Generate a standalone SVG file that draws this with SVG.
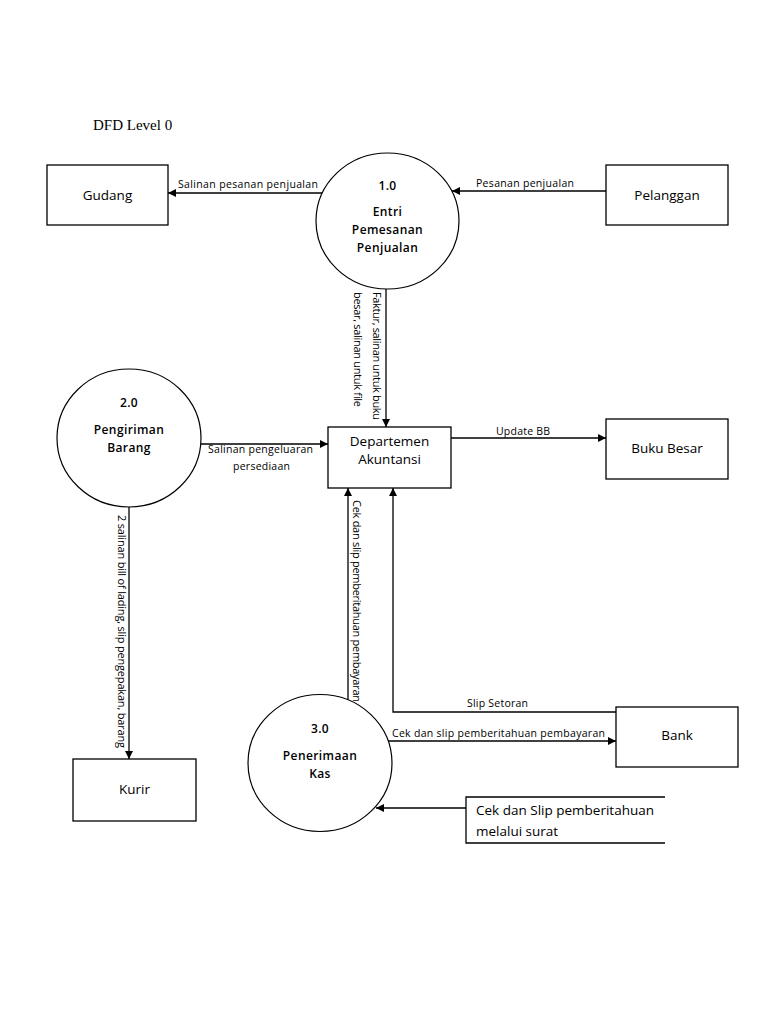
<svg xmlns="http://www.w3.org/2000/svg" width="768" height="1024" viewBox="0 0 768 1024">
<defs>
<marker id="arr" viewBox="0 0 10 10" refX="10" refY="5" markerWidth="9" markerHeight="8" markerUnits="userSpaceOnUse" orient="auto">
<path d="M0,0 L10,5 L0,10 z" fill="#000"/>
</marker>
<style>
.box{fill:#fff;stroke:#000;stroke-width:1.3}
.proc{fill:#fff;stroke:#000;stroke-width:1.2}
.ln{fill:none;stroke:#000;stroke-width:1.3}
.arr{fill:none;stroke:#000;stroke-width:1.3;marker-end:url(#arr)}
.nt{font-family:"Open Sans","Noto Sans",sans-serif;font-size:13.5px;fill:#000;text-anchor:middle}
.st{font-family:"Open Sans","Noto Sans",sans-serif;font-size:13.5px;fill:#000}
.pt{font-family:"Open Sans","Noto Sans",sans-serif;font-size:12px;font-weight:600;fill:#000;text-anchor:middle;letter-spacing:0.4px}
.lb{font-family:"Open Sans","Noto Sans",sans-serif;font-size:10.5px;fill:#000}
.vl{font-family:"Open Sans","Noto Sans",sans-serif;font-size:11px;fill:#000}
</style>
</defs>
<rect width="768" height="1024" fill="#fff"/>
<text x="93" y="130" font-family="Liberation Serif,serif" font-size="15" fill="#000">DFD Level 0</text>

<g id="gudang"><rect class="box" x="47" y="165" width="121" height="60"/><text class="nt" x="107.5" y="200">Gudang</text></g>
<g id="pelanggan"><rect class="box" x="606" y="165" width="122" height="60"/><text class="nt" x="667" y="200">Pelanggan</text></g>
<g id="p1"><ellipse class="proc" cx="387.5" cy="221" rx="71.5" ry="68"/><text class="pt" x="387.5" y="190" font-size="13">1.0</text><text class="pt" x="387.5" y="216">Entri</text><text class="pt" x="387.5" y="234">Pemesanan</text><text class="pt" x="387.5" y="252">Penjualan</text></g>
<g id="p2"><ellipse class="proc" cx="129" cy="438" rx="72" ry="69"/><text class="pt" x="129" y="407" font-size="13">2.0</text><text class="pt" x="129" y="434">Pengiriman</text><text class="pt" x="129" y="452">Barang</text></g>
<g id="akuntansi"><rect class="box" x="328" y="427" width="123" height="61"/><text class="nt" x="389.5" y="446">Departemen</text><text class="nt" x="389.5" y="464">Akuntansi</text></g>
<g id="bukubesar"><rect class="box" x="606" y="419" width="122" height="60"/><text class="nt" x="667" y="453">Buku Besar</text></g>
<g id="kurir"><rect class="box" x="73" y="759" width="123" height="62"/><text class="nt" x="134.5" y="794">Kurir</text></g>
<g id="p3"><ellipse class="proc" cx="320" cy="763" rx="72" ry="68.5"/><text class="pt" x="320" y="733" font-size="13">3.0</text><text class="pt" x="320" y="760">Penerimaan</text><text class="pt" x="320" y="778">Kas</text></g>
<g id="bank"><rect class="box" x="616" y="707" width="122" height="60"/><text class="nt" x="677" y="740">Bank</text></g>
<g id="surat"><path class="ln" d="M665,797 H466 V843 H665"/><text class="st" x="476" y="815">Cek dan Slip pemberitahuan</text><text class="st" x="476" y="836">melalui surat</text></g>

<g id="connectors">
<line class="arr" x1="322" y1="193" x2="168" y2="193"/>
<line class="arr" x1="606" y1="191" x2="452" y2="191"/>
<line class="arr" x1="386" y1="289" x2="386" y2="427"/>
<line class="arr" x1="201" y1="444" x2="328" y2="444"/>
<line class="arr" x1="451" y1="438" x2="606" y2="438"/>
<line class="arr" x1="129" y1="507" x2="129" y2="759"/>
<line class="arr" x1="348" y1="700" x2="348" y2="488"/>
<polyline class="arr" points="616,712 393,712 393,488"/>
<line class="arr" x1="388" y1="741" x2="616" y2="741"/>
<line class="arr" x1="466" y1="808" x2="376" y2="808"/>

<text class="lb" x="178" y="188" textLength="140">Salinan pesanan penjualan</text>
<text class="lb" x="476" y="187" textLength="98">Pesanan penjualan</text>
<text class="lb" x="496" y="435" textLength="54">Update BB</text>
<text class="lb" x="208" y="453" textLength="105">Salinan pengeluaran</text>
<text class="lb" x="233" y="470" textLength="57">persediaan</text>
<text class="lb" x="467" y="707" textLength="61">Slip Setoran</text>
<text class="lb" x="392" y="737" textLength="213">Cek dan slip pemberitahuan pembayaran</text>
<text class="vl" transform="translate(373,292) rotate(90)" textLength="128">Faktur, salinan untuk buku</text>
<text class="vl" transform="translate(354,292) rotate(90)" textLength="115">besar, salinan untuk file</text>
<text class="vl" transform="translate(353,500) rotate(90)" textLength="202">Cek dan slip pemberitahuan pembayaran</text>
<text class="vl" transform="translate(118,515) rotate(90)" textLength="233">2 salinan bill of lading, slip pengepakan, barang</text>
</g>
</svg>
